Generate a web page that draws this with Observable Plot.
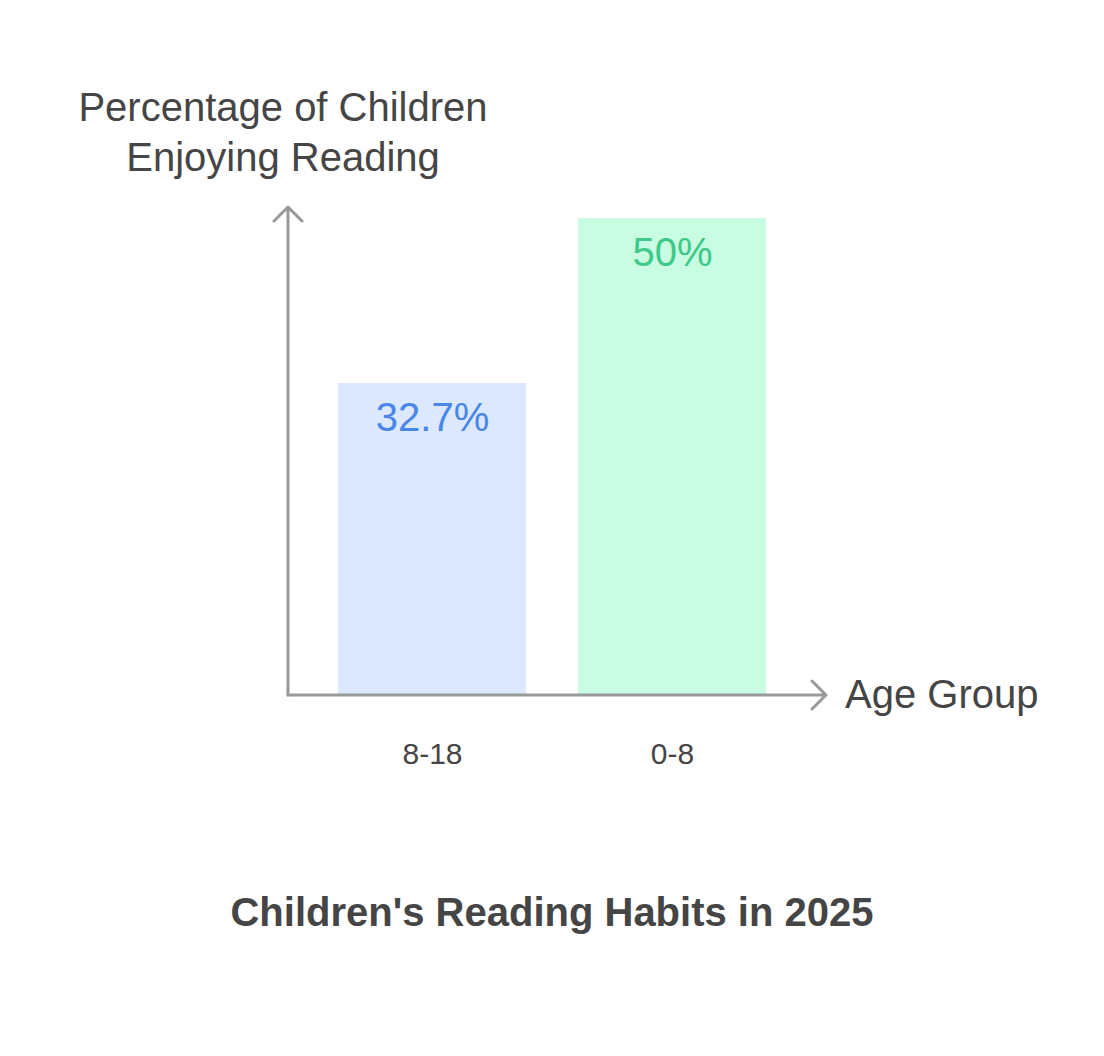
<!DOCTYPE html>
<html><head><meta charset="utf-8">
<script src="https://cdn.jsdelivr.net/npm/d3@7"></script>
<script src="https://cdn.jsdelivr.net/npm/@observablehq/plot@0.6"></script>
<style>
html,body{margin:0;padding:0;background:#fff;}
body{font-family:"Liberation Sans",Arial,Helvetica,sans-serif;width:1104px;overflow:hidden;}
#chart svg{display:block;}
#title{margin-top:29px;height:46px;line-height:46px;font-size:40px;font-weight:bold;color:#454545;text-align:center;width:1104px;}
</style></head>
<body>
<div id="chart"></div>
<div id="title"></div>
<script>
const ageGroups = ["8-18", "0-8"];
const percentages = [32.7, 50];
const valueLabels = ["32.7%", "50%"];
const barFills = ["#dce8fd", "#c8fde3"];
const labelColors = ["#4a86e8", "#3ec989"];
const yAxisLabel = ["Percentage of Children", "Enjoying Reading"];
const xAxisLabel = "Age Group";
const chartTitle = "Children's Reading Habits in 2025";

const data = ageGroups.map((g, i) => ({group: g, value: percentages[i], label: valueLabels[i], fill: barFills[i], color: labelColors[i]}));

const textColor = "#454545";
const axisColor = "#999999";

function axes(index, scales, values, dims) {
  const g = d3.create("svg:g");
  const x0 = dims.marginLeft, y0 = dims.height - dims.marginBottom;
  const yTop = dims.marginTop, xRight = dims.width - dims.marginRight;
  const a = 14;
  const lines = g.append("g").attr("stroke", axisColor).attr("stroke-width", 3)
    .attr("fill", "none").attr("stroke-linecap", "round").attr("stroke-linejoin", "round");
  lines.append("path").attr("d", `M${x0},${y0}V${yTop}M${x0 - a},${yTop + a}L${x0},${yTop}L${x0 + a},${yTop + a}`);
  lines.append("path").attr("d", `M${x0},${y0}H${xRight}M${xRight - a},${y0 - a}L${xRight},${y0}L${xRight - a},${y0 + a}`);
  const t = g.append("g").attr("fill", textColor).attr("font-size", 40)
    .attr("font-family", "'Liberation Sans', Arial, sans-serif");
  yAxisLabel.forEach((s, i) => {
    t.append("text").attr("x", x0 - 5).attr("y", yTop - 86 + i * 50).attr("text-anchor", "middle").text(s);
  });
  t.append("text").attr("x", xRight + 19).attr("y", y0 + 13).attr("text-anchor", "start").text(xAxisLabel);
  return g.node();
}

const plot = Plot.plot({
  width: 1104,
  height: 860,
  marginLeft: 288,
  marginRight: 278,
  marginTop: 207,
  marginBottom: 165,
  style: {fontFamily: "'Liberation Sans', Arial, sans-serif", background: "white", overflow: "visible"},
  color: {type: "identity"},
  x: {domain: ageGroups, range: [312, 792], paddingInner: 52 / 240, paddingOuter: 26 / 240, axis: null},
  y: {domain: [0, 50], range: [695, 218], axis: null},
  marks: [
    Plot.barY(data, {x: "group", y: "value", fill: "fill"}),
    Plot.text(data, {x: "group", y: "value", text: "label", fill: "color", fontSize: 40, dy: 35}),
    Plot.text(data, {x: "group", text: "group", frameAnchor: "bottom", dy: 68, fontSize: 30, fill: textColor}),
    axes
  ]
});
document.getElementById("chart").appendChild(plot);
document.getElementById("title").textContent = chartTitle;
</script>
</body></html>
